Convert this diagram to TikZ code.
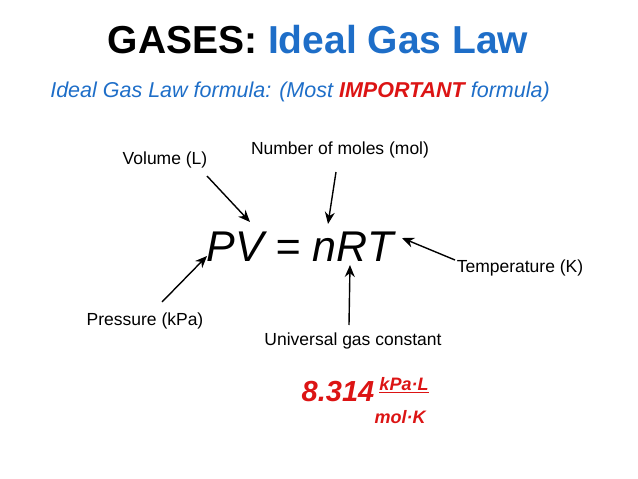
\documentclass[tikz,border=0pt]{standalone}
\usepackage{fontspec}
\setmainfont{Liberation Sans}
\usetikzlibrary{arrows.meta}
\definecolor{tblue}{RGB}{30,110,200}
\definecolor{tred}{RGB}{220,20,20}
\tikzset{lab/.style={font=\fontsize{17.5}{20}\selectfont},
 arr/.style={-{Stealth[length=12pt,width=10pt]},line width=1.4pt}}
\begin{document}
\begin{tikzpicture}[x=1pt,y=-1pt]
\useasboundingbox (0,0) rectangle (638,479);
\node (title) at (318,40) {\fontsize{39}{42}\selectfont\bfseries GASES: \textcolor{tblue}{Ideal Gas Law}};
\node (sub) at (300,92) {\fontsize{21.5}{24}\selectfont\itshape\color{tblue}Ideal Gas Law formula: (Most \textcolor{tred}{\bfseries IMPORTANT}\ formula)};
\node[lab] (vol) at (165,160) {Volume (L)};
\node[lab] (mol) at (340,150) {Number of moles (mol)};
\node (eq) at (300,247) {\fontsize{43}{47}\selectfont\itshape PV = nRT};
\node[lab] (temp) at (520,268) {Temperature (K)};
\node[lab] (pres) at (145,321) {Pressure (kPa)};
\node[lab] (ugc) at (353,341) {Universal gas constant};
\node[text=tred,font=\fontsize{29}{32}\selectfont\bfseries\itshape] (val) at (338,392) {8.314};
\node[text=tred,font=\fontsize{18}{20}\selectfont\bfseries\itshape] (num) at (404,385) {\underline{kPa·L}};
\node[text=tred,font=\fontsize{18}{20}\selectfont\bfseries\itshape] (den) at (400,417) {mol·K};
\coordinate (v1) at (207,176); \coordinate (v2) at (250,222);
\coordinate (m1) at (336,172); \coordinate (m2) at (328,224);
\coordinate (t1) at (455,260); \coordinate (t2) at (402,238);
\coordinate (p1) at (162,302); \coordinate (p2) at (207,256);
\coordinate (u1) at (349,325); \coordinate (u2) at (350,265);
\draw[arr] (v1) -- (v2);
\draw[arr] (m1) -- (m2);
\draw[arr] (t1) -- (t2);
\draw[arr] (p1) -- (p2);
\draw[arr] (u1) -- (u2);
\end{tikzpicture}
\end{document}
